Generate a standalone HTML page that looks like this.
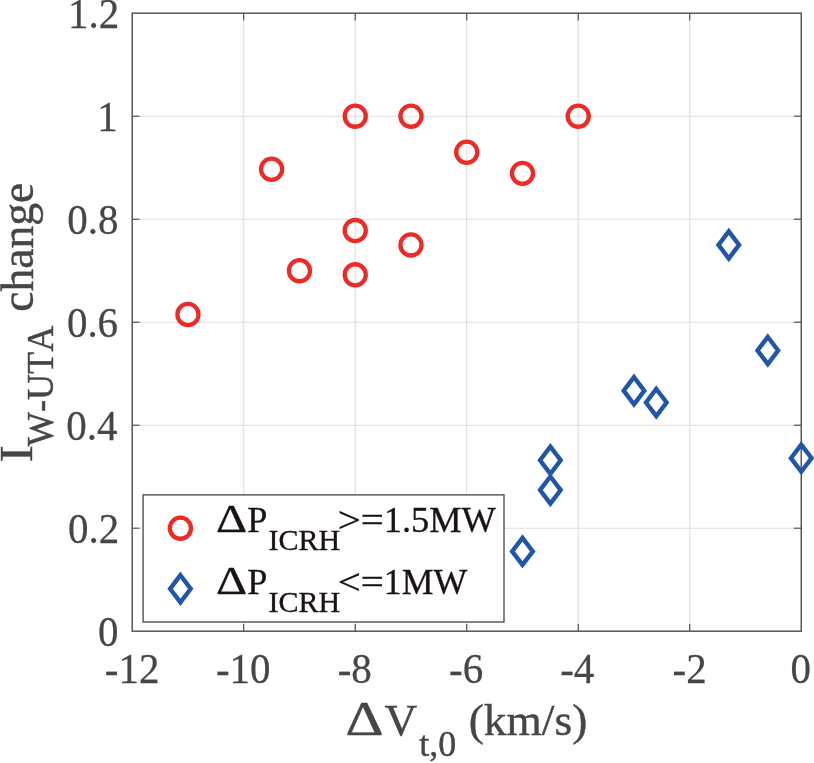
<!DOCTYPE html>
<html lang="en">
<head>
<meta charset="utf-8">
<title>I W-UTA change vs Delta V</title>
<style>
html,body{margin:0;padding:0;background:#fff;}
body{width:814px;height:763px;overflow:hidden;}
svg{display:block;}
text{font-family:"Liberation Serif","DejaVu Serif",serif;font-kerning:none;}
</style>
</head>
<body>
<svg width="814" height="763" viewBox="0 0 814 763">
<rect x="0" y="0" width="814" height="763" fill="#ffffff"/>
<g stroke="#dedee0" stroke-width="1.1" fill="none">
<line x1="243.71" y1="13.2" x2="243.71" y2="631.2"/>
<line x1="355.22" y1="13.2" x2="355.22" y2="631.2"/>
<line x1="466.72" y1="13.2" x2="466.72" y2="631.2"/>
<line x1="578.23" y1="13.2" x2="578.23" y2="631.2"/>
<line x1="689.74" y1="13.2" x2="689.74" y2="631.2"/>
<line x1="132.2" y1="528.20" x2="801.25" y2="528.20"/>
<line x1="132.2" y1="425.20" x2="801.25" y2="425.20"/>
<line x1="132.2" y1="322.20" x2="801.25" y2="322.20"/>
<line x1="132.2" y1="219.20" x2="801.25" y2="219.20"/>
<line x1="132.2" y1="116.20" x2="801.25" y2="116.20"/>
</g>
<g stroke="#454545" stroke-width="1.1" fill="none">
<line x1="243.71" y1="631.2" x2="243.71" y2="623.90"/>
<line x1="243.71" y1="13.2" x2="243.71" y2="20.50"/>
<line x1="355.22" y1="631.2" x2="355.22" y2="623.90"/>
<line x1="355.22" y1="13.2" x2="355.22" y2="20.50"/>
<line x1="466.72" y1="631.2" x2="466.72" y2="623.90"/>
<line x1="466.72" y1="13.2" x2="466.72" y2="20.50"/>
<line x1="578.23" y1="631.2" x2="578.23" y2="623.90"/>
<line x1="578.23" y1="13.2" x2="578.23" y2="20.50"/>
<line x1="689.74" y1="631.2" x2="689.74" y2="623.90"/>
<line x1="689.74" y1="13.2" x2="689.74" y2="20.50"/>
<line x1="132.2" y1="528.20" x2="139.50" y2="528.20"/>
<line x1="801.25" y1="528.20" x2="793.95" y2="528.20"/>
<line x1="132.2" y1="425.20" x2="139.50" y2="425.20"/>
<line x1="801.25" y1="425.20" x2="793.95" y2="425.20"/>
<line x1="132.2" y1="322.20" x2="139.50" y2="322.20"/>
<line x1="801.25" y1="322.20" x2="793.95" y2="322.20"/>
<line x1="132.2" y1="219.20" x2="139.50" y2="219.20"/>
<line x1="801.25" y1="219.20" x2="793.95" y2="219.20"/>
<line x1="132.2" y1="116.20" x2="139.50" y2="116.20"/>
<line x1="801.25" y1="116.20" x2="793.95" y2="116.20"/>
</g>
<rect x="132.2" y="13.2" width="669.05" height="618.00" fill="none" stroke="#525254" stroke-width="1.45"/>
<g stroke="#ee2a27" stroke-width="4.3" fill="none">
<circle cx="187.95" cy="314.48" r="10.55"/>
<circle cx="271.59" cy="169.25" r="10.55"/>
<circle cx="299.46" cy="270.70" r="10.55"/>
<circle cx="355.22" cy="116.20" r="10.55"/>
<circle cx="355.22" cy="230.53" r="10.55"/>
<circle cx="355.22" cy="274.82" r="10.55"/>
<circle cx="410.97" cy="116.20" r="10.55"/>
<circle cx="410.97" cy="244.95" r="10.55"/>
<circle cx="466.72" cy="152.25" r="10.55"/>
<circle cx="522.48" cy="173.37" r="10.55"/>
<circle cx="578.23" cy="116.20" r="10.55"/>
</g>
<g stroke="#2155a8" stroke-width="4.4" fill="none" stroke-linejoin="miter">
<path d="M522.48 537.83L532.78 551.38L522.48 564.92L512.18 551.38Z"/>
<path d="M550.36 476.54L560.66 490.09L550.36 503.64L540.06 490.09Z"/>
<path d="M550.36 446.67L560.66 460.22L550.36 473.77L540.06 460.22Z"/>
<path d="M633.99 377.15L644.29 390.70L633.99 404.25L623.69 390.70Z"/>
<path d="M656.29 388.99L666.59 402.54L656.29 416.09L645.99 402.54Z"/>
<path d="M728.77 231.40L739.07 244.95L728.77 258.50L718.47 244.95Z"/>
<path d="M767.80 336.98L778.10 350.53L767.80 364.08L757.50 350.53Z"/>
<path d="M801.25 444.61L811.55 458.16L801.25 471.71L790.95 458.16Z"/>
</g>
<rect x="143.1" y="494.9" width="360.90" height="127.10" fill="#ffffff" stroke="#525254" stroke-width="1.4"/>
<circle cx="180.4" cy="528.2" r="10.55" stroke="#ee2a27" stroke-width="4.3" fill="none"/>
<g stroke="#2155a8" stroke-width="4.4" fill="none"><path d="M180.40 575.25L190.70 588.80L180.40 602.35L170.10 588.80Z"/>
</g>
<g fill="#1a1311" stroke="#1a1311" stroke-width="0.3">
<text transform="translate(215.95 532.00) scale(1.2397 1.0)" font-size="39.10">Δ</text>
<text x="247.15" y="532.00" font-size="36.20">P</text>
<text transform="translate(268.41 550.20) scale(1.0358 1.0)" font-size="29.00">ICRH</text>
<text transform="translate(215.95 593.50) scale(1.2397 1.0)" font-size="39.10">Δ</text>
<text x="247.15" y="593.50" font-size="36.20">P</text>
<text transform="translate(268.41 611.70) scale(1.0358 1.0)" font-size="29.00">ICRH</text>
<text transform="translate(337.72 532.00) scale(1.1336 1.0)" font-size="36.20">&gt;=</text>
<text transform="translate(383.81 532.00) scale(1.0041 1.0)" font-size="36.20">1.5MW</text>
<text transform="translate(337.76 593.50) scale(1.1326 1.0)" font-size="36.20">&lt;=</text>
<text transform="translate(383.86 593.50) scale(0.9864 1.0)" font-size="36.20">1MW</text>
</g>
<g fill="#484546" stroke="#484546" stroke-width="0.25">
<text transform="translate(104.76 682.60) scale(0.9850 1.03)" font-size="41.60">-12</text>
<text transform="translate(215.92 682.60) scale(0.9850 1.03)" font-size="41.60">-10</text>
<text transform="translate(337.67 682.60) scale(0.9850 1.03)" font-size="41.60">-8</text>
<text transform="translate(449.01 682.60) scale(0.9850 1.03)" font-size="41.60">-6</text>
<text transform="translate(560.23 682.60) scale(0.9850 1.03)" font-size="41.60">-4</text>
<text transform="translate(672.55 682.60) scale(0.9850 1.03)" font-size="41.60">-2</text>
<text transform="translate(790.51 682.60) scale(0.9850 1.03)" font-size="41.60">0</text>
<text transform="translate(97.97 646.20) scale(0.9850 1.03)" font-size="41.60">0</text>
<text transform="translate(67.94 543.20) scale(0.9850 1.03)" font-size="41.60">0.2</text>
<text transform="translate(66.32 440.20) scale(0.9850 1.03)" font-size="41.60">0.4</text>
<text transform="translate(66.90 337.20) scale(0.9850 1.03)" font-size="41.60">0.6</text>
<text transform="translate(67.24 234.20) scale(0.9850 1.03)" font-size="41.60">0.8</text>
<text transform="translate(97.37 131.20) scale(0.9850 1.03)" font-size="41.60">1</text>
<text transform="translate(67.94 28.20) scale(0.9850 1.03)" font-size="41.60">1.2</text>
</g>
<g fill="#484546" stroke="#484546" stroke-width="0.4">
<text transform="translate(345.44 735.10) scale(1.2185 1.0)" font-size="48.60">Δ</text>
<text transform="translate(384.59 735.10) scale(1.0099 1.0)" font-size="45.00">V</text>
<text x="419.15" y="756.20" font-size="36.00">t,0</text>
<text transform="translate(468.70 735.10) scale(1.0094 1.0)" font-size="45.00">(km/s)</text>
<g transform="translate(32.8 0) rotate(-90)">
<text transform="translate(-462.48 -1.20) scale(1.1297 1.0)" font-size="46.00">I</text>
<text transform="translate(-446.24 20.40) scale(0.9774 1.0)" font-size="37.00">W-UTA</text>
<text transform="translate(-311.84 0.00) scale(0.9913 1.0)" font-size="46.00">change</text>
</g>
</g>
</svg>
</body>
</html>
